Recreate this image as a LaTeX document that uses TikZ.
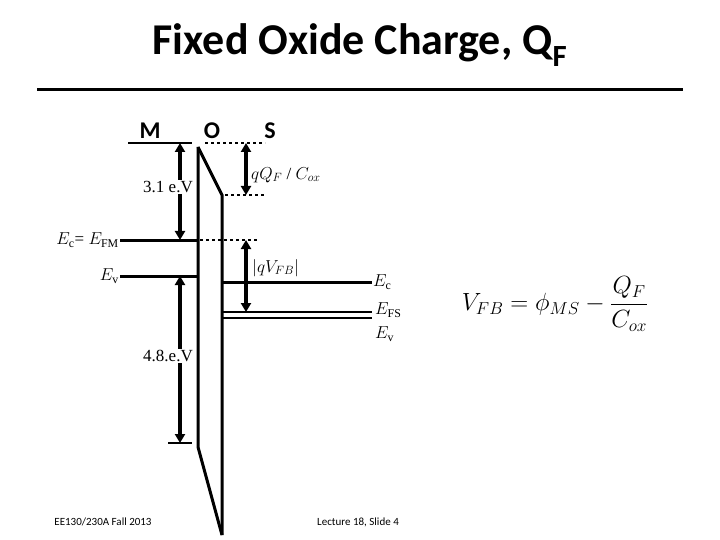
\documentclass[tikz,border=0pt]{standalone}
\usepackage{fontspec}
\setmainfont{Liberation Serif}
\newfontfamily\calib{Carlito}
\usetikzlibrary{arrows.meta}
\begin{document}
\begin{tikzpicture}[x=1pt,y=-1pt,
  band/.style={line width=3pt},
  lvl/.style={dashed,line width=1.2pt},
  gap/.style={line width=3.5pt,{Triangle[length=9pt,width=10pt]}-{Triangle[length=9pt,width=10pt]}},
  tick/.style={line width=1.5pt},
  lbl/.style={font=\fontsize{17}{19}\selectfont,inner sep=1pt},
  hd/.style={font=\calib\bfseries\fontsize{24}{26}\selectfont}]
\useasboundingbox (0,0) rectangle (720,540);
% title
\node[font=\calib\bfseries\fontsize{44}{48}\selectfont] (title) at (360,45) {Fixed Oxide Charge, Q\textsubscript{F}};
\draw[line width=3pt] (37,90) -- (683,90);
\node[hd] (m) at (150,131) {M};
\node[hd] (o) at (212,131) {O};
\node[hd] (s) at (270,131) {S};
% oxide
\coordinate (oxa) at (198,147);
\coordinate (oxb) at (222,195);
\coordinate (oxc) at (198,447);
\coordinate (oxd) at (222,535);
\draw[band] (oxa) -- (oxc) -- (oxd);
\draw[band] (oxa) -- (oxb) -- (oxd);
% metal levels
\coordinate (vac) at (128,143);
\coordinate (efm) at (120,240);
\coordinate (evm) at (120,276);
\draw[band] (efm) -- (efm -| oxa);
\draw[band] (evm) -- (evm -| oxa);
\draw[tick] (vac) -- (192,143);
\draw[tick] (168,443) -- (192,443);
\draw[gap] (180,143) -- (180,240);
\draw[gap] (180,276) -- (180,443);
\node[lbl,fill=white] (g31) at (168,187) {3.1 e.V};
\node[lbl,fill=white] (g48) at (168,356) {4.8.e.V};
\node[lbl,anchor=east] (efml) at (efm) {$E_{\mathrm{c}}$= $E_{\mathrm{FM}}$};
\node[lbl,anchor=east] (evml) at (evm) {$E_{\mathrm{v}}$};
% dashed references
\draw[lvl] (205,143) -- (265,143);
\draw[lvl] (225,195) -- (265,195);
\draw[lvl] (200,240) -- (257,240);
\draw[gap] (246,143) -- (246,195);
\draw[gap] (246,240) -- (246,312);
\node[lbl,anchor=west] (qf) at (250,175) {$q Q_F$ / $C_{ox}$};
\node[lbl,anchor=west] (vfb) at (251,268) {$|qV_{FB}|$};
% semiconductor levels
\coordinate (ecs) at (372,282);
\coordinate (efs) at (372,312);
\coordinate (evs) at (372,318);
\draw[band] (ecs -| oxb) -- (ecs);
\draw[line width=2.5pt] (efs -| oxb) -- (efs);
\draw[line width=2.5pt] (evs -| oxb) -- (evs);
\node[lbl,anchor=west] (ecsl) at (ecs) {$E_{\mathrm{c}}$};
\node[lbl,anchor=west] (efsl) at (374,310) {$E_{\mathrm{FS}}$};
\node[lbl,anchor=west] (evsl) at (374,334) {$E_{\mathrm{v}}$};
% formula
\node[font=\fontsize{24}{28}\selectfont] (eq) at (555,304) {$\displaystyle V_{FB} = \phi_{MS} - \frac{Q_F}{C_{ox}}$};
% footer
\node[font=\calib\fontsize{11}{13}\selectfont] (ft1) at (103,522) {EE130/230A Fall 2013};
\node[font=\calib\fontsize{11}{13}\selectfont] (ft2) at (358,522) {Lecture 18, Slide 4};
\end{tikzpicture}
\end{document}
